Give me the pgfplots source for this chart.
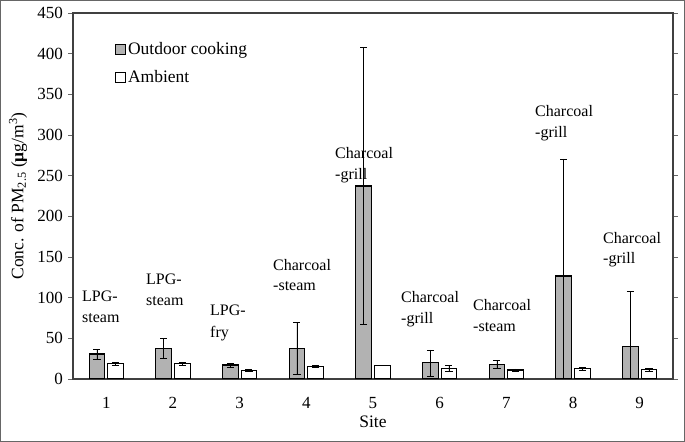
\documentclass[border=0pt]{standalone}
\usepackage{fontspec}
\setmainfont{Liberation Serif}
\usepackage{pgfplots}
\pgfplotsset{compat=1.18}
\pgfplotstableread{
x y ep em
1 30.7 5.7 6.7
2 37.3 12.7 12.3
3 17.2 1.8 2.5
4 37.3 32.4 31.6
5 237.3 170.7 169.7
6 20.0 15.7 16.3
7 18.0 5.0 5.3
8 126.6 143.9 143.9
9 40.2 67.6 67.6
}\outdoor
\pgfplotstableread{
x y ep em
1 18.8 1.6 1.6
2 18.8 1.6 1.6
3 10.6 1.2 1.2
4 15.6 1.3 1.3
5 16.4 0 0
6 13.0 3.4 3.6
7 11.0 1.4 1.4
8 12.7 1.6 1.6
9 11.4 1.4 1.4
}\ambient
\begin{document}
\fontsize{16bp}{19bp}\selectfont
\begin{tikzpicture}
\useasboundingbox (-73bp,-63bp) rectangle (612bp,379bp);
\begin{axis}[
  at={(0,0)}, anchor=south west,
  scale only axis, width=600bp, height=366bp,
  xmin=0.5, xmax=9.5, ymin=0, ymax=450,
  xtick={1,...,9}, ytick={0,50,...,450},
  /pgf/number format/assume math mode=true,
  ticklabel style={font=\fontsize{17bp}{20bp}\selectfont},
  xticklabel style={yshift=-8bp},
  axis line style={black!75, line width=1.1pt},
  tick align=outside, major tick length=4.5bp,
  x tick style={draw=none},
  y tick style={black!60, line width=0.8pt},
  ybar, bar width=0.235,
  every axis y label/.style={at={(axis description cs:0,0.5)}, xshift=-55bp, rotate=90, anchor=center},
  every axis x label/.style={at={(axis description cs:0.5,0)}, yshift=-43bp, anchor=center},
  label style={font=\fontsize{17.5bp}{21bp}\selectfont},
  ylabel={Conc. of PM\textsubscript{2.5} (\textbf{μ}g/m\textsuperscript{3})},
  xlabel={Site},
  legend style={draw=none, fill=none, at={(rel axis cs:0.07,0.925)}, anchor=north west,
    font=\fontsize{17.5bp}{21bp}\selectfont, row sep=9bp, inner sep=0pt},
  legend cell align=left,
  legend image code/.code={\draw[#1, line width=0.9pt] (0bp,-5bp) rectangle (10bp,5bp);},
]
\addplot[fill=black!30, draw=black, line width=1.2pt, bar shift=-0.14,
  error bars/.cd, y dir=both, y explicit, error mark=|,
  error bar style={black, line width=0.7pt},
  error mark options={black, mark size=3.5bp, line width=0.7pt}]
  table[x=x, y=y, y error plus=ep, y error minus=em] {\outdoor};
\addlegendentry{Outdoor cooking}
\addplot[fill=white, draw=black, line width=1.2pt, bar shift=0.14,
  error bars/.cd, y dir=both, y explicit, error mark=|,
  error bar style={black, line width=0.7pt},
  error mark options={black, mark size=3.5bp, line width=0.7pt}]
  table[x=x, y=y, y error plus=ep, y error minus=em] {\ambient};
\addlegendentry{Ambient}
\begin{scope}[every node/.style={anchor=base west, inner sep=0pt, font=\fontsize{16bp}{19bp}\selectfont}]
\node at (axis cs:0.635,95.0) {LPG-};
\node at (axis cs:0.635,68.9) {steam};
\node at (axis cs:1.595,116.4) {LPG-};
\node at (axis cs:1.595,90.1) {steam};
\node at (axis cs:2.555,77.5) {LPG-};
\node at (axis cs:2.555,51.6) {fry};
\node at (axis cs:3.5,132.8) {Charcoal};
\node at (axis cs:3.5,108.2) {-steam};
\node at (axis cs:4.43,271.7) {Charcoal};
\node at (axis cs:4.43,244.7) {-grill};
\node at (axis cs:5.42,94.3) {Charcoal};
\node at (axis cs:5.42,68.5) {-grill};
\node at (axis cs:6.5,84.8) {Charcoal};
\node at (axis cs:6.5,59.0) {-steam};
\node at (axis cs:7.43,322.5) {Charcoal};
\node at (axis cs:7.43,297.5) {-grill};
\node at (axis cs:8.45,166.0) {Charcoal};
\node at (axis cs:8.45,142.6) {-grill};
\end{scope}
\end{axis}
\draw[black!60, line width=1.2pt] (-72.4bp,-62.4bp) rectangle (611.4bp,378.4bp);
\end{tikzpicture}
\end{document}
